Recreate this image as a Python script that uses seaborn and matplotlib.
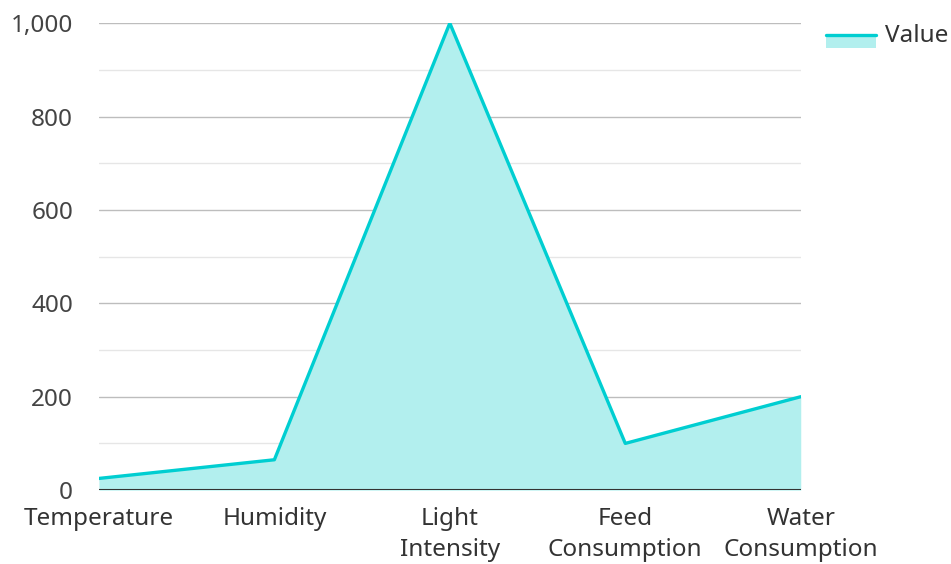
import matplotlib
matplotlib.use("Agg")
import matplotlib.pyplot as plt
import seaborn as sb
import pandas as pd
from matplotlib.patches import Rectangle
from matplotlib.lines import Line2D

# DATA
#-----------------------------------
categories = ["Temperature", "Humidity", "Light\nIntensity", "Feed\nConsumption", "Water\nConsumption"]
values = [25, 65, 1000, 100, 200]
y_ticks = [0, 200, 400, 600, 800, 1000]
y_tick_labels = ["0", "200", "400", "600", "800", "1,000"]

line_color = "#00CED1"
fill_color = "#B2EFEE"

sb.set_style("white")
plt.rcParams["font.family"] = ["Noto Sans", "DejaVu Sans"]

df = pd.DataFrame({"pos": range(len(categories)), "value": values})

fig = plt.figure(figsize=(9.51, 5.64), dpi=100)
ax = fig.add_axes([0.104, 0.131, 0.738, 0.828])

# grid lines
for y in range(100, 1001, 100):
    ax.axhline(y, color="#bdbdbd" if y % 200 == 0 else "#e6e6e6", lw=1, zorder=0)

ax.fill_between(df["pos"], df["value"], 0, color=fill_color, lw=0, zorder=1)
sb.lineplot(data=df, x="pos", y="value", color=line_color, lw=2.4, ax=ax, zorder=3)
ax.axhline(0, color="#333333", lw=1.5, zorder=4)

ax.set_xlim(0, len(categories) - 1)
ax.set_ylim(0, 1000)
ax.set_xticks(df["pos"])
ax.set_xticklabels(categories, fontsize=17.5, color="#333333", linespacing=1.38, va="top")
ax.set_yticks(y_ticks)
ax.set_yticklabels(y_tick_labels, fontsize=17.5, color="#444444")
ax.tick_params(axis="y", length=0, pad=18.5)
ax.tick_params(axis="x", length=0, pad=12)
ax.set_xlabel("")
ax.set_ylabel("")
for s in ax.spines.values():
    s.set_visible(False)

# legend
fig.patches.append(Rectangle((826 / 951, 1 - 48 / 564), 50 / 951, 13 / 564,
                             transform=fig.transFigure, color=fill_color, lw=0))
fig.lines.append(Line2D([826 / 951, 876 / 951], [1 - 34.5 / 564, 1 - 34.5 / 564],
                        transform=fig.transFigure, color=line_color, lw=2.4))
fig.text(885 / 951, 1 - 36 / 564, "Value", fontsize=17.5, color="#333333", va="center")

fig.savefig("out.png", dpi=100)
